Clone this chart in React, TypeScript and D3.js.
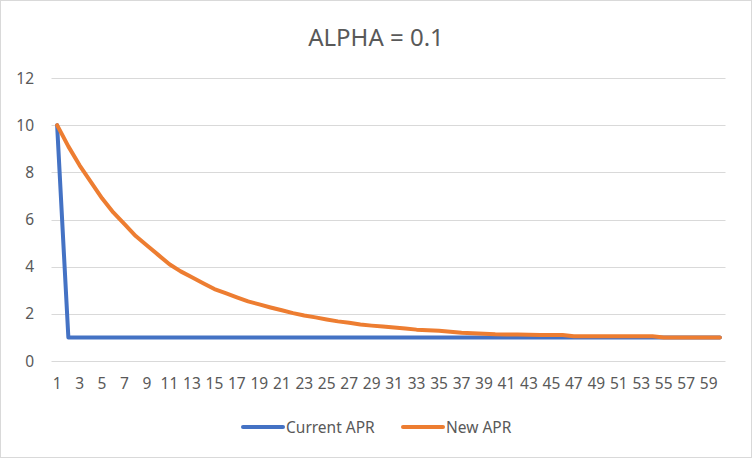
import { useEffect, useRef } from 'react';
import * as d3 from 'd3';

const periods: number[] = d3.range(1, 61);

const currentApr: number[] = [
  10, 1, 1, 1, 1, 1, 1, 1, 1, 1,
  1, 1, 1, 1, 1, 1, 1, 1, 1, 1,
  1, 1, 1, 1, 1, 1, 1, 1, 1, 1,
  1, 1, 1, 1, 1, 1, 1, 1, 1, 1,
  1, 1, 1, 1, 1, 1, 1, 1, 1, 1,
  1, 1, 1, 1, 1, 1, 1, 1, 1, 1,
];

const newApr: number[] = [
  10, 9.1, 8.3, 7.6, 6.9, 6.3, 5.8, 5.3, 4.9, 4.5,
  4.1, 3.8, 3.55, 3.3, 3.05, 2.88, 2.7, 2.53, 2.4, 2.27,
  2.15, 2.03, 1.93, 1.85, 1.76, 1.68, 1.62, 1.55, 1.5, 1.46,
  1.42, 1.38, 1.33, 1.3, 1.28, 1.24, 1.2, 1.18, 1.16, 1.13,
  1.12, 1.12, 1.11, 1.1, 1.1, 1.1, 1.05, 1.05, 1.05, 1.05,
  1.05, 1.05, 1.05, 1.05, 1.0, 1.0, 1.0, 1.0, 1.0, 1.0,
];

const yTicks: number[] = [0, 2, 4, 6, 8, 10, 12];

const seriesNames: string[] = ['Current APR', 'New APR'];
const seriesColors: string[] = ['#4472C4', '#ED7D31'];

const App: React.FC = () => {
  const svgRef = useRef<SVGSVGElement>(null);

  const width = 752;
  const height = 458;
  const plot = { left: 51.5, right: 725.5, top: 78, bottom: 361 };
  const font = "'Noto Sans', 'Open Sans', sans-serif";
  const textColor = '#595959';

  useEffect(() => {
    if (!svgRef.current) return;
    document.body.style.margin = '0';

    const svg = d3.select(svgRef.current);
    svg.selectAll('*').remove();

    svg.attr('width', width).attr('height', height);

    // chart background + border
    svg.append('rect')
      .attr('x', 0.5).attr('y', 0.5)
      .attr('width', width - 1).attr('height', height - 1)
      .attr('fill', '#fff')
      .attr('stroke', '#d9d9d9');

    const x = d3.scaleBand<number>()
      .domain(periods)
      .range([plot.left, plot.right]);

    const cx = (p: number) => (x(p) || 0) + x.bandwidth() / 2;

    const y = d3.scaleLinear()
      .domain([0, 12])
      .range([plot.bottom, plot.top]);

    // title
    svg.append('text')
      .attr('x', width / 2)
      .attr('y', 46)
      .text('ALPHA = 0.1')
      .style('text-anchor', 'middle')
      .style('font-family', font)
      .style('font-size', '24px')
      .style('fill', textColor);

    // gridlines
    svg.selectAll('.grid')
      .data(yTicks)
      .enter()
      .append('line')
      .attr('class', 'grid')
      .attr('x1', plot.left)
      .attr('x2', plot.right)
      .attr('y1', d => Math.round(y(d)) + 0.5)
      .attr('y2', d => Math.round(y(d)) + 0.5)
      .attr('stroke', '#d9d9d9')
      .attr('stroke-width', 1);

    // y labels
    svg.selectAll('.ylab')
      .data(yTicks)
      .enter()
      .append('text')
      .attr('class', 'ylab')
      .attr('x', 34)
      .attr('y', d => y(d) + 5.5)
      .text(d => d)
      .style('text-anchor', 'end')
      .style('font-family', font)
      .style('font-size', '15.5px')
      .style('fill', textColor);

    // x labels (every other period)
    svg.selectAll('.xlab')
      .data(periods.filter(p => p % 2 === 1))
      .enter()
      .append('text')
      .attr('class', 'xlab')
      .attr('x', d => cx(d))
      .attr('y', 389)
      .text(d => d)
      .style('text-anchor', 'middle')
      .style('font-family', font)
      .style('font-size', '15.5px')
      .style('fill', textColor);

    const line = d3.line<number>()
      .x((_, i) => cx(periods[i]))
      .y(d => y(d));

    [currentApr, newApr].forEach((series, i) => {
      svg.append('path')
        .datum(series)
        .attr('d', line)
        .attr('fill', 'none')
        .attr('stroke', seriesColors[i])
        .attr('stroke-width', 4)
        .attr('stroke-linejoin', 'round')
        .attr('stroke-linecap', 'round');
    });

    // legend
    const legendItems = [
      { x: 241, name: seriesNames[0], color: seriesColors[0] },
      { x: 401, name: seriesNames[1], color: seriesColors[1] },
    ];
    const legend = svg.selectAll('.legend')
      .data(legendItems)
      .enter()
      .append('g')
      .attr('class', 'legend')
      .attr('transform', d => `translate(${d.x},427)`);

    legend.append('line')
      .attr('x1', 2).attr('x2', 42)
      .attr('y1', 0).attr('y2', 0)
      .attr('stroke', d => d.color)
      .attr('stroke-width', 4)
      .attr('stroke-linecap', 'round');

    legend.append('text')
      .attr('x', 45)
      .attr('y', 5.5)
      .text(d => d.name)
      .style('font-family', font)
      .style('font-size', '15.5px')
      .style('fill', textColor);
  }, []);

  return (
    <div style={{ position: 'absolute', left: 0, top: 0 }}>
      <svg ref={svgRef} style={{ display: 'block' }}></svg>
    </div>
  );
};

export default App;
